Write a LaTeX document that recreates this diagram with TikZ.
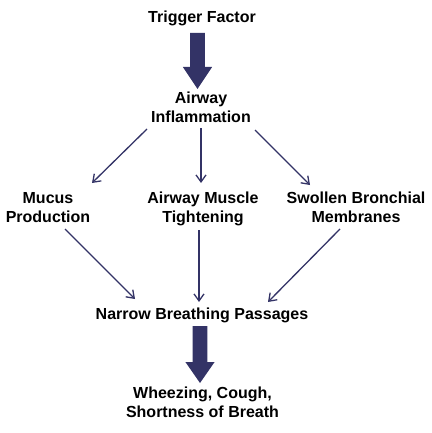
\documentclass[tikz,border=0pt]{standalone}
\usepackage{fontspec}
\setmainfont{Liberation Sans}
\usetikzlibrary{arrows.meta,calc}
\definecolor{navy}{RGB}{51,51,102}
\newcommand\bigarr[4]{% x, top, head start, tip
  \fill[navy] (#1-7.4,#2) -- (#1+7.4,#2) -- (#1+7.4,#3) -- (#1+14.6,#3) -- (#1,#4) -- (#1-14.6,#3) -- (#1-7.4,#3) -- cycle;}
\begin{document}
\begin{tikzpicture}[x=1pt,y=-1pt,
  lbl/.style={font=\bfseries\fontsize{16}{19}\selectfont, align=center, inner sep=0pt, text=black},
  thinarr/.style={draw=navy, line width=1.3pt, -{Straight Barb[length=7pt,width=10pt]}}]
\useasboundingbox (0,0) rectangle (431,433);
\node[lbl] (trig) at (202,18.5) {Trigger Factor};
\node[lbl] (infl) at (201,107) {Airway\\Inflammation};
\node[lbl] (mucus) at (48,207.5) {Mucus\\Production};
\node[lbl] (musc) at (203,209) {Airway Muscle\\Tightening};
\node[lbl] (swol) at (356,207.5) {Swollen Bronchial\\Membranes};
\node[lbl] (narrow) at (202,315) {Narrow Breathing Passages};
\node[lbl] (wheeze) at (202.5,402) {Wheezing, Cough,\\Shortness of Breath};
\bigarr{197.5}{33}{67}{89}
\bigarr{200}{326}{362}{383}
\draw[thinarr] ($(infl.center)+(-54,22)$) -- ($(mucus.center)+(44,-24.5)$);
\draw[thinarr] ($(infl.center)+(0,21)$) -- ($(musc.center)+(-2,-26)$);
\draw[thinarr] ($(infl.center)+(54,23)$) -- ($(swol.center)+(-46,-22.5)$);
\draw[thinarr] ($(mucus.center)+(17,21.5)$) -- ($(narrow.center)+(-67,-16)$);
\draw[thinarr] ($(musc.center)+(-4,21)$) -- ($(narrow.center)+(-3,-13)$);
\draw[thinarr] ($(swol.center)+(-16,21.5)$) -- ($(narrow.center)+(66,-13)$);
\end{tikzpicture}
\end{document}
